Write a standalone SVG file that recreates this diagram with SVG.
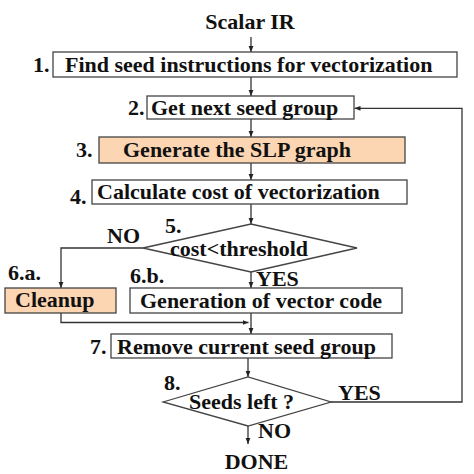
<svg xmlns="http://www.w3.org/2000/svg" width="474" height="474" viewBox="0 0 474 474">
<style>
text{font-family:"Liberation Serif","Times New Roman",serif;font-weight:bold;font-size:22px;fill:#111}
.box{fill:#fff;stroke:#444;stroke-width:1.3}
.hl{fill:#fcd6b3;stroke:#444;stroke-width:1.3}
.ln{fill:none;stroke:#333;stroke-width:1.3}
</style>
<defs>
<marker id="ah" viewBox="0 0 6 6" refX="6" refY="3" markerWidth="6" markerHeight="6" markerUnits="userSpaceOnUse" orient="auto">
<path d="M0,0.6 L6,3 L0,5.4 Z" fill="#222"/>
</marker>
</defs>
<rect width="474" height="474" fill="#fff"/>
<g id="connectors">
<path class="ln" d="M251,37 V52" marker-end="url(#ah)"/>
<path class="ln" d="M251,77 V96" marker-end="url(#ah)"/>
<path class="ln" d="M251,119 V137" marker-end="url(#ah)"/>
<path class="ln" d="M251,163 V180" marker-end="url(#ah)"/>
<path class="ln" d="M251,204 V224" marker-end="url(#ah)"/>
<path class="ln" d="M143,248 H61 V288" marker-end="url(#ah)"/>
<path class="ln" d="M251,272 V288" marker-end="url(#ah)"/>
<path class="ln" d="M61,313 V322.5 H248.5" marker-end="url(#ah)"/>
<path class="ln" d="M251,313 V334" marker-end="url(#ah)"/>
<path class="ln" d="M248,358 V377" marker-end="url(#ah)"/>
<path class="ln" d="M331,402 H462 V108.3 H354.5" marker-end="url(#ah)"/>
<path class="ln" d="M248,426 V444" marker-end="url(#ah)"/>
</g>
<g id="start"><text x="250" y="29" text-anchor="middle">Scalar IR</text></g>
<g id="n1"><rect class="box" x="53" y="52" width="404" height="25"/><text x="33" y="72">1.</text><text x="65" y="72">Find seed instructions for vectorization</text></g>
<g id="n2"><rect class="box" x="147" y="96" width="207" height="23"/><text x="128" y="115">2.</text><text x="151" y="115">Get next seed group</text></g>
<g id="n3"><rect class="hl" x="99" y="137" width="306" height="26"/><text x="76" y="157">3.</text><text x="123" y="157">Generate the SLP graph</text></g>
<g id="n4"><rect class="box" x="92" y="180" width="315" height="24"/><text x="70" y="204">4.</text><text x="97" y="199">Calculate cost of vectorization</text></g>
<g id="n5"><path class="box" d="M143,248 L251,224 L357,248 L251,272 Z"/><text x="165" y="233">5.</text><text x="170" y="256">cost&lt;threshold</text><text x="107" y="243">NO</text><text x="256" y="286">YES</text></g>
<g id="n6a"><rect class="hl" x="5" y="288" width="111" height="25"/><text x="8" y="280">6.a.</text><text x="15" y="307">Cleanup</text></g>
<g id="n6b"><rect class="box" x="130" y="288" width="272" height="25"/><text x="130" y="283">6.b.</text><text x="140" y="307.5">Generation of vector code</text></g>
<g id="n7"><rect class="box" x="111" y="334" width="281" height="24"/><text x="90" y="354">7.</text><text x="117" y="354">Remove current seed group</text></g>
<g id="n8"><path class="box" d="M163,402 L248,377 L331,402 L248,426 Z"/><text x="164" y="390">8.</text><text x="189" y="409">Seeds left ?</text><text x="338" y="400">YES</text><text x="258" y="438">NO</text></g>
<g id="end"><text x="256.5" y="469" text-anchor="middle">DONE</text></g>
</svg>
